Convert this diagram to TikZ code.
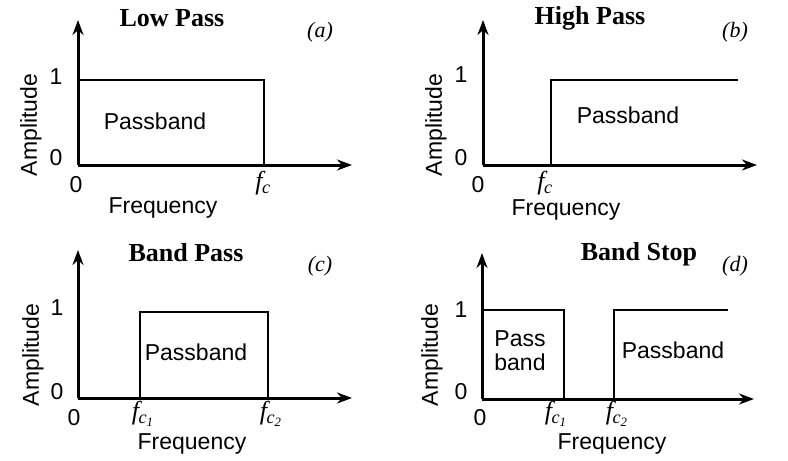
\documentclass[tikz,border=0pt]{standalone}
\usepackage{fontspec}
\setmainfont{Liberation Serif}
\setsansfont{Liberation Sans}
\usetikzlibrary{arrows.meta}
\newcommand{\fcsub}[1]{\textit{f\textsubscript{\kern-0.5pt c#1}}}
\begin{document}
\begin{tikzpicture}[x=1pt,y=-1pt,
  axis/.style={line width=3pt,-{Stealth[length=15pt,width=11pt]}},
  curve/.style={line width=2pt},
  lbl/.style={font=\sffamily\fontsize{23}{25}\selectfont,inner sep=0pt},
  ttl/.style={font=\rmfamily\bfseries\fontsize{26}{28}\selectfont,inner sep=0pt},
  tag/.style={font=\rmfamily\itshape\fontsize{22}{24}\selectfont,inner sep=0pt},
  fq/.style={font=\rmfamily\fontsize{26}{28}\selectfont,inner sep=0pt}]
\useasboundingbox (0,0) rectangle (788,461);
% (a)
\coordinate (ao) at (78,165);
\draw[curve] (78,80) -- (264,80) -- (264,165);
\draw[axis] (ao) -- (78,20) coordinate (ay);
\draw[axis] (ao) -- (352,165) coordinate (ax);
\node[ttl] (at) at (172,18) {Low Pass};
\node[tag] (ag) at (320,32) {(a)};
\node[lbl] (a1) at (56,77) {1};
\node[lbl] (a0) at (56,158) {0};
\node[lbl] (a00) at (76,185) {0};
\node[fq] (afc) at (263,183) {\fcsub{}};
\node[lbl] (af) at (163,208) {Frequency};
\node[lbl,rotate=90] (aa) at (31,125) {Amplitude};
\node[lbl] (ap) at (155,121) {Passband};
% (b)
\coordinate (bo) at (483,165);
\draw[curve] (483,165) -- (551,165) -- (551,80) -- (738,80);
\draw[axis] (bo) -- (483,20) coordinate (by);
\draw[axis] (bo) -- (757,165) coordinate (bx);
\node[ttl] (bt) at (590,18) {High Pass};
\node[tag] (bg) at (735,32) {(b)};
\node[lbl] (b1) at (461,75) {1};
\node[lbl] (b0) at (461,158) {0};
\node[lbl] (b00) at (478,185) {0};
\node[fq] (bfc) at (545,183) {\fcsub{}};
\node[lbl] (bf) at (566,210) {Frequency};
\node[lbl,rotate=90] (ba) at (436,125) {Amplitude};
\node[lbl] (bp) at (628,115) {Passband};
% (c)
\coordinate (co) at (78,398);
\draw[curve] (140,398) -- (140,312) -- (268,312) -- (268,398);
\draw[axis] (co) -- (78,250) coordinate (cy);
\draw[axis] (co) -- (352,398) coordinate (cx);
\node[ttl] (ct) at (186,253) {Band Pass};
\node[tag] (cg) at (320,266) {(c)};
\node[lbl] (c1) at (57,308) {1};
\node[lbl] (c0) at (57,392) {0};
\node[lbl] (c00) at (74,418) {0};
\node[fq] (cf1) at (143,414) {\fcsub{\textsubscript{1}}};
\node[fq] (cf2) at (271,414) {\fcsub{\textsubscript{2}}};
\node[lbl] (cf) at (192,444) {Frequency};
\node[lbl,rotate=90] (ca) at (33,355) {Amplitude};
\node[lbl] (cp) at (196,352) {Passband};
% (d)
\coordinate (do) at (482,399);
\draw[curve] (482,310) -- (564,310) -- (564,399);
\draw[curve] (614,399) -- (614,310) -- (728,310);
\draw[axis] (do) -- (482,253) coordinate (dy);
\draw[axis] (do) -- (754,399) coordinate (dx);
\node[ttl] (dt) at (639,254) {Band Stop};
\node[tag] (dg) at (735,266) {(d)};
\node[lbl] (d1) at (461,310) {1};
\node[lbl] (d0) at (461,392) {0};
\node[lbl] (d00) at (480,418) {0};
\node[fq] (df1) at (556,414) {\fcsub{\textsubscript{1}}};
\node[fq] (df2) at (617,414) {\fcsub{\textsubscript{2}}};
\node[lbl] (df) at (612,444) {Frequency};
\node[lbl,rotate=90] (da) at (432,355) {Amplitude};
\node[lbl,align=left,font=\sffamily\fontsize{23}{24}\selectfont] (dp1) at (520,351) {Pass\\band};
\node[lbl] (dp2) at (673,350) {Passband};
\end{tikzpicture}
\end{document}
